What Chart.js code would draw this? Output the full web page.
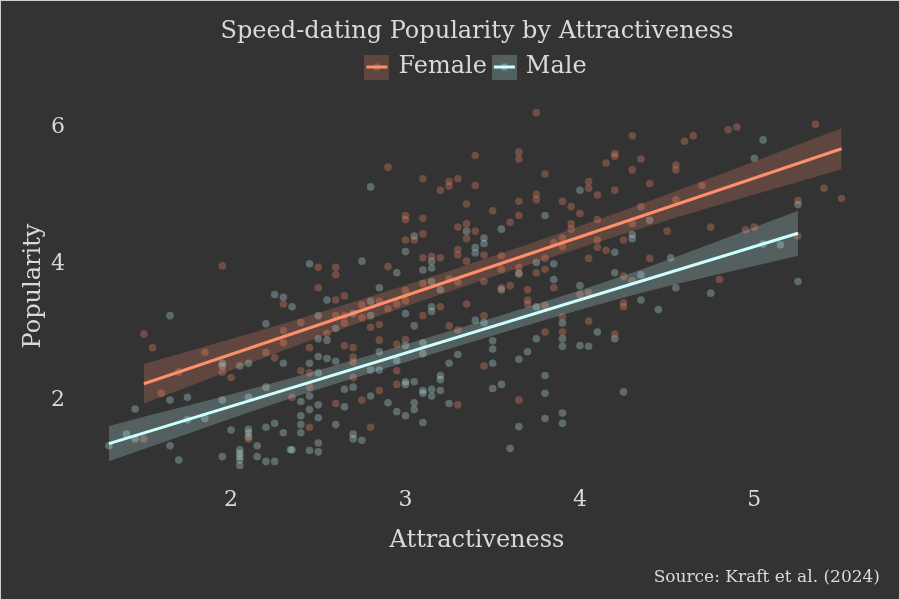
<!DOCTYPE html>
<html><head><meta charset="utf-8">
<script src="https://cdn.jsdelivr.net/npm/chart.js@4/dist/chart.umd.min.js"></script>
<style>html,body{margin:0;padding:0;background:#333333;}canvas{display:block}</style>
</head><body>
<canvas id="c" width="900" height="600"></canvas>
<script>
const chartTitle = 'Speed-dating Popularity by Attractiveness';
const sourceText = 'Source: Kraft et al. (2024)';
const seriesNames = ['Female', 'Male'];
const xTicks = [2, 3, 4, 5];
const yTicks = [2, 4, 6];

const femalePoints = [
 [1.95,3.97],
 [2.90,5.42],[3.10,5.25],[3.25,5.21],[3.25,5.14],[3.30,5.25],[3.20,5.08],[3.40,5.59],[3.40,5.15],[3.35,4.88],[3.00,4.71],
 [3.00,4.65],[3.10,4.67],[3.10,4.44],[3.30,4.54],[3.35,4.59],[3.35,4.37],[3.40,4.48],[3.00,4.35],[3.05,4.35],[3.10,4.09],
 [3.15,4.11],[3.20,4.09],[3.30,4.21],[3.30,4.13],[3.35,4.04],[2.50,3.95],[2.60,3.95],[2.60,3.84],[2.90,3.96],[2.50,3.65],
 [3.10,3.71],[3.25,3.78],[3.30,3.73],[3.00,3.61],
 [3.75,6.22],[4.30,5.88],[3.65,5.64],[3.65,5.54],[4.20,5.62],[4.20,5.58],[4.15,5.48],[4.35,5.54],[4.30,5.38],[3.80,5.32],
 [4.05,5.21],[4.05,5.11],[4.40,5.18],[3.75,5.02],[3.75,4.94],[4.10,5.01],[4.20,5.08],[3.65,4.92],[3.90,4.92],[3.95,4.84],
 [4.00,4.74],[3.50,4.78],[3.65,4.71],[3.60,4.61],[3.95,4.59],[3.95,4.51],[4.10,4.65],[4.35,4.84],[4.30,4.59],[3.90,4.38],
 [3.90,4.25],[4.10,4.35],[4.10,4.24],[4.15,4.20],[4.25,4.35],[3.85,4.31],[3.45,4.13],[3.55,4.12],[3.55,3.92],[3.80,4.08],
 [3.65,3.95],[3.65,3.87],[3.75,3.87],[3.80,3.92],[4.05,4.08],[4.40,4.08],[4.50,4.48],[3.45,3.74],[3.60,3.68],[3.70,3.62],
 [3.85,3.65],[4.25,3.82],[4.30,3.75],[3.55,3.65],
 [4.60,5.80],[4.65,5.88],[4.85,5.97],[4.90,6.01],[5.35,6.05],[4.55,5.45],[4.55,5.38],[4.70,5.15],[4.55,4.94],[5.40,5.11],
 [5.50,4.96],[5.25,4.93],[4.75,4.54],[4.95,4.50],[5.00,4.54],[5.25,4.41],[4.80,3.77],
 [1.50,2.97],[1.55,2.77],[1.85,2.70],[1.70,2.41],[1.60,2.10],[1.50,1.43],[1.95,2.41],[2.00,2.33],[2.20,2.70],[2.25,2.62],
 [2.30,3.41],[2.30,3.02],[2.30,2.84],[2.10,1.43],
 [2.60,3.47],[2.65,3.53],[2.60,3.24],[2.65,3.24],[2.75,3.40],[2.85,3.45],[2.90,3.34],[2.95,3.41],[3.00,3.46],[3.10,3.24],
 [3.20,3.37],[3.35,3.41],[2.40,3.14],[2.65,3.13],[2.75,3.21],[2.80,3.07],[2.85,3.11],[2.55,2.98],[2.45,2.77],[2.65,2.80],
 [2.70,2.77],[2.70,2.63],[2.70,2.56],[2.85,2.88],[2.95,2.82],[3.00,2.89],[3.25,3.09],[3.30,3.03],[2.40,2.43],[2.45,2.40],
 [2.70,2.33],[2.95,2.43],[2.95,2.23],[2.45,2.19],[2.35,2.04],[2.85,2.14],[2.75,2.00],[2.60,1.95],[3.30,1.93],[2.45,1.60],
 [2.80,1.60],
 [3.70,3.47],[3.70,3.41],[3.80,3.39],[4.00,3.55],[4.05,3.58],[3.45,3.24],[3.90,3.22],[3.90,3.00],[4.05,3.16],[3.80,3.00],
 [4.20,2.97],[4.25,3.43],[4.25,3.37],[3.45,2.50],[3.65,2.00]
];

const malePoints = [
 [2.80,5.13],[3.00,4.18],[3.15,4.04],[3.15,3.94],[3.10,3.91],[2.45,4.00],[2.75,4.04],[2.95,3.87],[2.85,3.65],[3.15,3.74],
 [3.20,3.62],[3.40,4.24],[3.40,4.16],[3.35,4.48],[3.05,4.41],
 [4.00,5.08],[3.80,4.71],[3.55,4.51],[3.45,4.38],[3.45,4.30],[4.30,4.43],[4.30,4.37],[4.40,4.64],[4.20,4.17],[3.75,4.02],
 [3.85,4.00],[3.65,3.85],[3.85,3.77],[4.20,3.87],[4.35,3.84],[4.00,3.68],[3.55,3.62],
 [5.05,5.82],[5.00,5.55],[5.25,4.87],[5.05,4.29],[5.15,4.28],[4.52,4.09],[5.25,3.74],[4.55,3.65],
 [1.65,3.24],[1.45,1.87],[1.65,2.00],[1.75,2.04],[1.95,2.00],[1.95,2.54],[1.95,2.50],[2.05,2.50],[2.10,2.54],[2.20,3.12],
 [2.25,3.55],[2.30,3.51],[2.30,2.54],[2.20,2.19],[2.10,2.04],[1.85,1.73],[1.75,1.71],[1.40,1.50],[1.45,1.43],[1.30,1.33],
 [1.65,1.33],[1.70,1.12],[1.95,1.17],[2.00,1.56],[2.10,1.57],[2.10,1.52],[2.10,1.46],[2.05,1.27],[2.05,1.22],[2.05,1.17],
 [2.05,1.12],[2.05,1.04],[2.15,1.33],[2.15,1.17],[2.20,1.60],[2.20,1.10],[2.25,1.10],[2.25,1.66],[2.30,1.52],[2.34,1.27],
 [2.35,3.37],[2.55,3.47],[2.50,3.24],[2.70,3.27],[2.80,3.45],[2.80,3.24],[3.00,3.27],[3.15,3.37],[3.15,3.30],[2.60,3.05],
 [2.55,2.88],[2.50,2.90],[3.00,2.80],[3.05,3.09],[3.10,2.84],[3.10,2.68],[3.40,3.17],[3.30,2.67],[3.25,2.54],[2.50,2.64],
 [2.55,2.61],[2.60,2.57],[2.45,2.54],[2.50,2.40],[2.80,2.44],[2.85,2.71],[2.85,2.44],[2.95,2.58],[3.00,2.27],[3.00,2.23],
 [3.05,2.27],[3.20,2.36],[3.20,2.30],[2.45,2.06],[2.40,1.98],[2.65,2.16],[2.70,2.19],[2.80,2.06],[2.50,1.93],[2.45,1.86],
 [2.65,1.90],[2.90,1.96],[3.10,2.14],[3.10,2.10],[3.15,2.16],[3.15,2.06],[3.20,2.14],[3.05,1.96],[3.05,1.86],[2.95,1.83],
 [3.00,1.77],[3.25,1.95],[2.40,1.77],[2.50,1.74],[2.40,1.64],[2.40,1.52],[2.60,1.64],[3.10,1.67],[2.70,1.50],[2.70,1.43],
 [2.75,1.41],[2.35,1.27],[2.50,1.37],[2.50,1.24],[2.45,1.26],
 [3.45,3.14],[3.75,3.37],[3.90,3.13],[3.90,2.90],[3.90,2.79],[3.50,2.87],[3.50,2.75],[3.75,2.90],[3.70,2.71],[3.65,2.60],
 [3.50,2.54],[4.00,2.80],[4.05,2.79],[4.10,3.00],[4.20,2.90],[4.35,3.47],[4.45,3.33],[3.80,2.36],[3.50,2.17],[3.55,2.23],
 [3.80,2.10],[4.25,2.12],[3.90,1.81],[3.90,1.66],[3.80,1.73],[3.65,1.61],[3.60,1.29],
 [4.75,3.57]
];

// fitted lines
const femaleFitX = [1.5, 5.5];
const femaleFitY = [2.24, 5.69];
const maleFitX = [1.3, 5.25];
const maleFitY = [1.36, 4.45];

// confidence bands
const femaleBandX = [1.5, 2.5, 3.5, 4.5, 5.5];
const femaleBandUpper = [2.53, 3.28, 4.11, 5.02, 5.99];
const femaleBandLower = [1.95, 2.92, 3.81, 4.64, 5.39];
const maleBandX = [1.3, 2.3, 3.3, 4.3, 5.25];
const maleBandUpper = [1.62, 2.29, 3.05, 3.87, 4.78];
const maleBandLower = [1.10, 1.99, 2.79, 3.54, 4.12];

const FONT = "'DejaVu Serif', 'Liberation Serif', serif";
const TEXT = '#d9d9d9';
const BG = '#333333';
const F_LINE = '#ff8f6b', M_LINE = '#ccffff';
const F_PT = 'rgba(255,143,107,0.30)', M_PT = 'rgba(204,255,255,0.28)';
const F_BAND = 'rgba(255,143,107,0.22)', M_BAND = 'rgba(204,255,255,0.22)';
const SOURCE_RIGHT_GAP = 20;

const xy = (xs, ys) => xs.map((x, i) => ({x, y: ys[i]}));
const pts = arr => arr.map(p => ({x: p[0], y: p[1]}));

function legendIcon(fill, dot, line) {
  const c = document.createElement('canvas');
  c.width = 25; c.height = 25;
  const g = c.getContext('2d');
  g.fillStyle = BG; g.fillRect(0, 0, 25, 25);
  g.fillStyle = fill; g.fillRect(0, 0, 25, 25);
  g.fillStyle = dot; g.beginPath(); g.arc(12.5, 12.5, 3.8, 0, Math.PI * 2); g.fill();
  g.strokeStyle = line; g.lineWidth = 3; g.beginPath(); g.moveTo(2, 12.5); g.lineTo(23, 12.5); g.stroke();
  return c;
}
const iconF = legendIcon(F_BAND, F_PT, F_LINE);
const iconM = legendIcon(M_BAND, M_PT, M_LINE);

const bgPlugin = {
  id: 'bg',
  beforeDraw(chart) {
    const ctx = chart.ctx;
    ctx.save(); ctx.fillStyle = BG; ctx.fillRect(0, 0, chart.width, chart.height); ctx.restore();
  },
  afterDraw(chart) {
    const ctx = chart.ctx;
    ctx.save(); ctx.strokeStyle = '#cfcfcf'; ctx.lineWidth = 1;
    ctx.strokeRect(0.5, 0.5, chart.width - 1, chart.height - 1); ctx.restore();
  }
};
const layoutTweaks = {
  id: 'layoutTweaks',
  beforeInit(chart) {
    const orig = chart.legend.fit;
    chart.legend.fit = function () { orig.bind(chart.legend)(); this.height += 8; };
  },
  afterLayout(chart) {
    const l = chart.chartArea.left, r = chart.chartArea.right;
    [chart.titleBlock, chart.legend].forEach(b => { if (b) { b.left = l; b.right = r; b.width = r - l; } });
    const sub = chart.boxes.find(b => b.options && b.options.text === sourceText);
    if (sub) { sub.right = chart.width - SOURCE_RIGHT_GAP; sub.width = sub.right - sub.left; }
  }
};

const bandCommon = {type: 'line', showLine: true, borderWidth: 0, pointRadius: 0, pointHoverRadius: 0, cubicInterpolationMode: 'monotone', order: 3};

new Chart(document.getElementById('c'), {
  type: 'scatter',
  data: {
    datasets: [
      Object.assign({label: 'fband_u', data: xy(femaleBandX, femaleBandUpper), backgroundColor: F_BAND, borderColor: 'transparent', fill: '+1'}, bandCommon),
      Object.assign({label: 'fband_l', data: xy(femaleBandX, femaleBandLower), backgroundColor: F_BAND, borderColor: 'transparent', fill: false}, bandCommon),
      Object.assign({label: 'mband_u', data: xy(maleBandX, maleBandUpper), backgroundColor: M_BAND, borderColor: 'transparent', fill: '+1'}, bandCommon),
      Object.assign({label: 'mband_l', data: xy(maleBandX, maleBandLower), backgroundColor: M_BAND, borderColor: 'transparent', fill: false}, bandCommon),
      {label: seriesNames[0], data: pts(femalePoints), backgroundColor: F_PT, borderWidth: 0, pointRadius: 3.8, order: 5},
      {label: seriesNames[1], data: pts(malePoints), backgroundColor: M_PT, borderWidth: 0, pointRadius: 3.8, order: 5},
      {type: 'line', label: 'ffit', data: xy(femaleFitX, femaleFitY), borderColor: F_LINE, borderWidth: 3, pointRadius: 0, fill: false, order: 1},
      {type: 'line', label: 'mfit', data: xy(maleFitX, maleFitY), borderColor: M_LINE, borderWidth: 3, pointRadius: 0, fill: false, order: 1}
    ]
  },
  options: {
    responsive: false,
    animation: false,
    devicePixelRatio: 1,
    layout: {padding: {left: 10, right: 41, top: 0, bottom: 0}},
    plugins: {
      tooltip: {enabled: false},
      title: {display: true, text: chartTitle, color: TEXT, font: {family: FONT, size: 24, weight: 'normal', lineHeight: 1.2}, padding: {top: 17.6, bottom: 0.6}},
      subtitle: {display: true, text: sourceText, position: 'bottom', align: 'end', color: TEXT, font: {family: FONT, size: 17, weight: 'normal', lineHeight: 1.2}, padding: {top: 7, bottom: 12.6}},
      legend: {
        display: true,
        onClick: null,
        labels: {
          usePointStyle: true, pointStyleWidth: 19, boxHeight: 22, padding: 8,
          color: TEXT, font: {family: FONT, size: 24},
          generateLabels: () => [
            {text: seriesNames[0], pointStyle: iconF, fillStyle: F_BAND, strokeStyle: 'transparent', lineWidth: 0, hidden: false, datasetIndex: 4, fontColor: TEXT},
            {text: seriesNames[1], pointStyle: iconM, fillStyle: M_BAND, strokeStyle: 'transparent', lineWidth: 0, hidden: false, datasetIndex: 5, fontColor: TEXT}
          ]
        }
      }
    },
    scales: {
      x: {
        type: 'linear', min: 1.22, max: 5.6,
        afterBuildTicks: s => { s.ticks = xTicks.map(v => ({value: v})); },
        afterFit: s => { s.height = 85; },
        grid: {display: false, drawTicks: false}, border: {display: false},
        ticks: {color: TEXT, font: {family: FONT, size: 22}, padding: 12, maxRotation: 0},
        title: {display: true, text: 'Attractiveness', color: TEXT, font: {family: FONT, size: 24}, padding: {top: 4, bottom: 5}}
      },
      y: {
        type: 'linear', min: 0.9, max: 6.45,
        afterBuildTicks: s => { s.ticks = yTicks.map(v => ({value: v})); },
        afterFit: s => { s.width = 85; },
        grid: {display: false, drawTicks: false}, border: {display: false},
        ticks: {color: TEXT, font: {family: FONT, size: 22}, padding: 30},
        title: {display: true, text: 'Popularity', color: TEXT, font: {family: FONT, size: 24}, padding: {top: 9, bottom: 4}}
      }
    }
  },
  plugins: [bgPlugin, layoutTweaks]
});
</script>
</body></html>
